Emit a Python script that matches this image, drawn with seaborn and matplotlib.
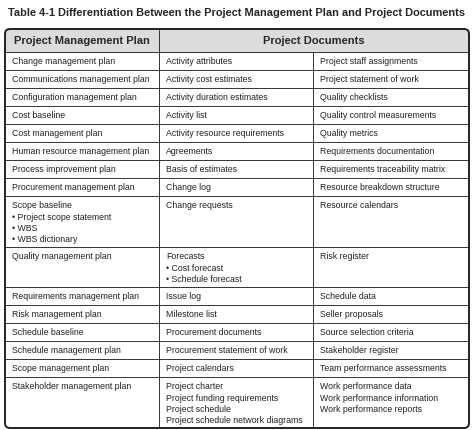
import matplotlib
matplotlib.use("Agg")
import matplotlib.pyplot as plt
from matplotlib.patches import FancyBboxPatch, Rectangle
import seaborn as sns

sns.set_style("white")
plt.rcParams['font.family'] = ['Liberation Sans', 'DejaVu Sans']

title = "Table 4-1 Differentiation Between the Project Management Plan and Project Documents"
headers = ["Project Management Plan", "Project Documents"]

plan = ["Change management plan", "Communications management plan", "Configuration management plan",
        "Cost baseline", "Cost management plan", "Human resource management plan",
        "Process improvement plan", "Procurement management plan",
        "Scope baseline\n• Project scope statement\n• WBS\n• WBS dictionary",
        "Quality management plan", "Requirements management plan", "Risk management plan",
        "Schedule baseline", "Schedule management plan", "Scope management plan",
        "Stakeholder management plan"]
docs_a = ["Activity attributes", "Activity cost estimates", "Activity duration estimates",
          "Activity list", "Activity resource requirements", "Agreements", "Basis of estimates",
          "Change log", "Change requests",
          "Forecasts\n• Cost forecast\n• Schedule forecast",
          "Issue log", "Milestone list", "Procurement documents", "Procurement statement of work",
          "Project calendars",
          "Project charter\nProject funding requirements\nProject schedule\nProject schedule network diagrams"]
docs_b = ["Project staff assignments", "Project statement of work", "Quality checklists",
          "Quality control measurements", "Quality metrics", "Requirements documentation",
          "Requirements traceability matrix", "Resource breakdown structure", "Resource calendars",
          "Risk register", "Schedule data", "Seller proposals", "Source selection criteria",
          "Stakeholder register", "Team performance assessments",
          "Work performance data\nWork performance information\nWork performance reports"]

fig = plt.figure(figsize=(4.74, 4.31), dpi=100)
ax = fig.add_axes([0, 0, 1, 1])
ax.set_xlim(0, 474)
ax.set_ylim(431, 0)
ax.axis("off")

x0, x1, x2, x3 = 5, 159, 313, 469
top, head_h = 30, 23

ax.text(237, 13, title, ha="center", va="center", fontsize=7.9, fontweight="bold")

# header band
ax.add_patch(Rectangle((x0, top), x3 - x0, head_h, facecolor="#dcdcdc", edgecolor="none", zorder=0))
ax.text((x0 + x1) / 2, top + head_h / 2, headers[0], ha="center", va="center", fontsize=8, fontweight="bold")
ax.text((x1 + x3) / 2, top + head_h / 2, headers[1], ha="center", va="center", fontsize=8, fontweight="bold")

lw = 0.7
y = top + head_h
ax.plot([x0, x3], [y, y], color="#333", lw=lw)
for i in range(len(plan)):
    n = max(s.count("\n") + 1 for s in (plan[i], docs_a[i], docs_b[i]))
    h = 18 if n == 1 else 11 * n + 7
    for xc, s in ((x0, plan[i]), (x1, docs_a[i]), (x2, docs_b[i])):
        ax.text(xc + 7, y + 4.5, s, ha="left", va="top", fontsize=6.3, linespacing=1.3, color="#222")
    y += h
    if i < len(plan) - 1:
        ax.plot([x0, x3], [y, y], color="#333", lw=lw)
bottom = y

ax.plot([x1, x1], [top, bottom], color="#333", lw=lw)
ax.plot([x2, x2], [top + head_h, bottom], color="#333", lw=lw)
ax.add_patch(FancyBboxPatch((x0, top), x3 - x0, bottom - top, boxstyle="round,pad=0,rounding_size=5",
                            facecolor="none", edgecolor="#222", lw=1.4, zorder=3))

fig.savefig("out.png", dpi=100)
